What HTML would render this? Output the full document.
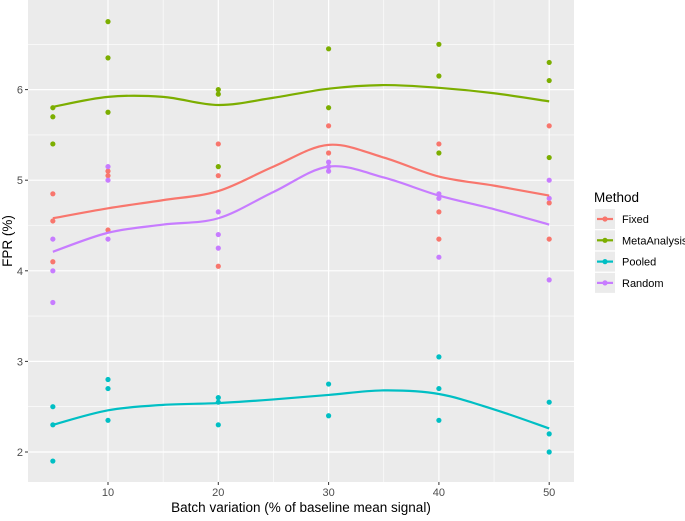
<!DOCTYPE html>
<html><head><meta charset="utf-8"><style>
body{margin:0;background:#fff;font-family:"Liberation Sans",Arial,sans-serif}
</style></head><body>
<svg id="chart" width="685" height="516" xmlns="http://www.w3.org/2000/svg"></svg>
<script>
const xCats=[5,10,20,30,40,50];
const fixedPts=[[4.85,4.55,4.1],[5.1,5.05,4.45],[5.4,5.05,4.05],[5.6,5.3],[5.4,4.65,4.35],[5.6,4.75,4.35]];
const metaPts=[[5.8,5.7,5.4],[6.75,6.35,5.75],[6.0,5.95,5.15],[6.45,5.8],[6.5,6.15,5.3],[6.3,6.1,5.25]];
const pooledPts=[[2.5,2.3,1.9],[2.8,2.7,2.35],[2.6,2.55,2.3],[2.75,2.4],[3.05,2.7,2.35],[2.55,2.2,2.0]];
const randomPts=[[4.35,4.0,3.65],[5.15,5.0,4.35],[4.65,4.4,4.25],[5.2,5.15,5.1],[4.85,4.8,4.15],[5.0,4.8,3.9]];
const smoothX=[5,10,15,20,25,30,35,40,45,50];
const fixedFit=[4.58,4.69,4.78,4.88,5.15,5.39,5.25,5.04,4.94,4.83];
const metaFit=[5.81,5.92,5.92,5.83,5.91,6.01,6.05,6.02,5.96,5.87];
const pooledFit=[2.30,2.46,2.52,2.54,2.58,2.63,2.68,2.64,2.47,2.26];
const randomFit=[4.21,4.42,4.51,4.58,4.87,5.15,5.03,4.83,4.68,4.51];
const xTicks=[10,20,30,40,50];
const yTicks=[2,3,4,5,6];
const seriesNames=["Fixed","MetaAnalysis","Pooled","Random"];

const colors=["#F8766D","#7CAE00","#00BFC4","#C77CFF"];
const L=28,R=574,T=0,B=482;
const xs=v=>108+(v-10)*11.03;
const ys=v=>452-(v-2)*90.6;
const svg=document.getElementById('chart');
const NS="http://www.w3.org/2000/svg";
function mk(tag,attrs,parent){const e=document.createElementNS(NS,tag);for(const k in attrs)e.setAttribute(k,attrs[k]);(parent||svg).appendChild(e);return e;}
const bg=mk('rect',{x:L,y:T,width:R-L,height:B-T,fill:'#EBEBEB'});


[15,25,35,45].forEach(v=>{const l=mk('line',{x1:xs(v),x2:xs(v),y1:T,y2:B,stroke:'#fff','stroke-width':0.6});

});
[2.5,3.5,4.5,5.5,6.5].forEach(v=>{const l=mk('line',{x1:L,x2:R,y1:ys(v),y2:ys(v),stroke:'#fff','stroke-width':0.6});

});
xTicks.forEach(v=>{const l=mk('line',{x1:xs(v),x2:xs(v),y1:T,y2:B,stroke:'#fff','stroke-width':1.2});


mk('line',{x1:xs(v),x2:xs(v),y1:B,y2:B+3,stroke:'#333','stroke-width':1});
const t=mk('text',{x:xs(v),y:B+14,'text-anchor':'middle','font-size':11,fill:'#4D4D4D'});t.textContent=v;

});
yTicks.forEach(v=>{const l=mk('line',{x1:L,x2:R,y1:ys(v),y2:ys(v),stroke:'#fff','stroke-width':1.2});


mk('line',{x1:L-3,x2:L,y1:ys(v),y2:ys(v),stroke:'#333','stroke-width':1});
const t=mk('text',{x:L-5,y:ys(v)+4,'text-anchor':'end','font-size':11,fill:'#4D4D4D'});t.textContent=v;

});
const allPts=[fixedPts,metaPts,pooledPts,randomPts];
const allFit=[fixedFit,metaFit,pooledFit,randomFit];
function pathFrom(px){let d=`M${px[0][0]},${px[0][1]}`;for(let i=0;i<px.length-1;i++){const p0=px[Math.max(0,i-1)],p1=px[i],p2=px[i+1],p3=px[Math.min(px.length-1,i+2)];
const c1=[p1[0]+(p2[0]-p0[0])/6,p1[1]+(p2[1]-p0[1])/6],c2=[p2[0]-(p3[0]-p1[0])/6,p2[1]-(p3[1]-p1[1])/6];
d+=` C${c1[0]},${c1[1]} ${c2[0]},${c2[1]} ${p2[0]},${p2[1]}`;}return d;}
allPts.forEach((s,si)=>{s.forEach((arr,ci)=>arr.forEach(v=>{const c=mk('circle',{cx:xs(xCats[ci]),cy:ys(v),r:2.6,fill:colors[si]});

}));});
allFit.forEach((f,si)=>{const p=mk('path',{d:pathFrom(smoothX.map((x,i)=>[xs(x),ys(f[i])])),fill:'none',stroke:colors[si],'stroke-width':2.2});

});
const xt=mk('text',{x:301,y:512,'text-anchor':'middle','font-size':13.5,fill:'#000'});xt.textContent='Batch variation (% of baseline mean signal)';


const yt=mk('text',{x:0,y:0,'text-anchor':'middle','font-size':13.5,fill:'#000',transform:'translate(12,241) rotate(-90)'});yt.textContent='FPR (%)';


const lt=mk('text',{x:594,y:202,'font-size':13.5,fill:'#000'});lt.textContent='Method';


seriesNames.forEach((n,i)=>{const y=209+i*21.3;const g=mk('g',{});


mk('rect',{x:595,y:y,width:20,height:20,fill:'#EBEBEB'},g);
mk('line',{x1:597,x2:613,y1:y+10,y2:y+10,stroke:colors[i],'stroke-width':2.2},g);
mk('circle',{cx:605,cy:y+10,r:2.6,fill:colors[i]},g);
const t=mk('text',{x:622,y:y+14,'font-size':11,fill:'#000'},g);t.textContent=n;});
</script>
</body></html>
